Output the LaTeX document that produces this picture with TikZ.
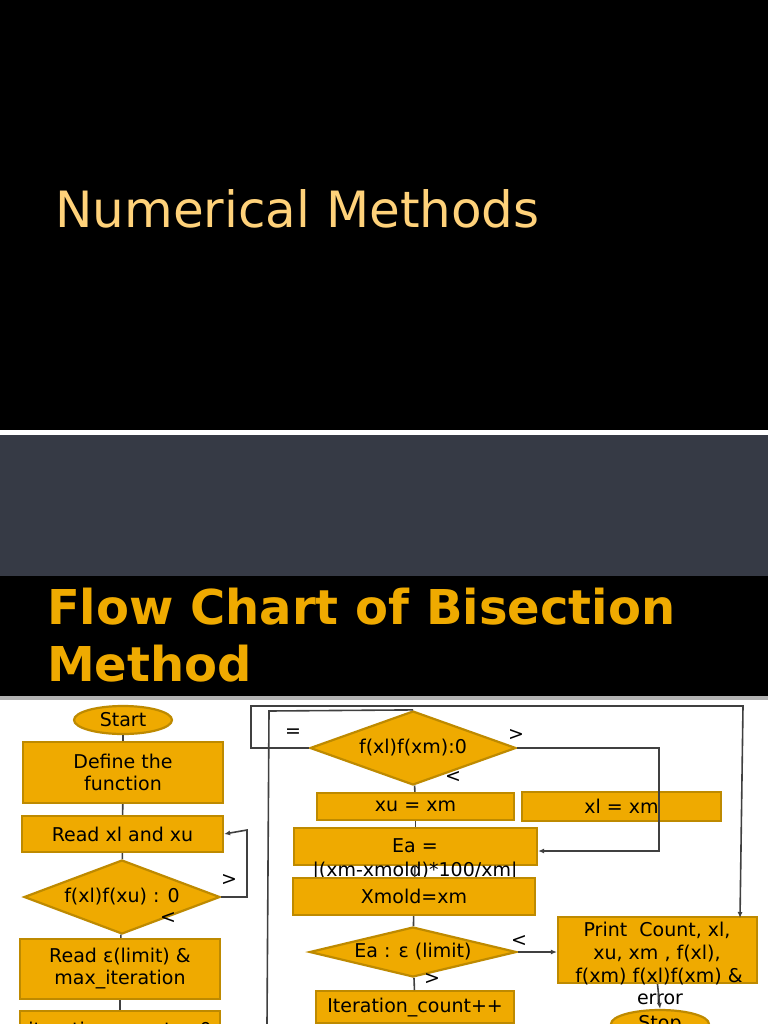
\documentclass[tikz,border=0pt]{standalone}
\usepackage{fontspec}
\setmainfont{DejaVu Sans}
\usetikzlibrary{shapes.geometric,arrows.meta}
\definecolor{gold}{HTML}{EFAA00}
\definecolor{goldedge}{HTML}{BE8A00}
\definecolor{band}{HTML}{363A45}
\definecolor{titlecol}{HTML}{FFD27A}
\definecolor{lnk}{HTML}{404040}
\tikzset{
  box/.style={draw=goldedge,fill=gold,line width=2.2pt,inner sep=0pt,font=\fontsize{19}{22}\selectfont,align=center},
  dec/.style={draw=goldedge,fill=gold,line width=2.2pt,diamond,inner sep=0pt,font=\fontsize{19}{22}\selectfont},
  term/.style={draw=goldedge,fill=gold,line width=2.2pt,ellipse,inner sep=0pt,minimum width=98pt,minimum height=28pt,font=\fontsize{19}{22}\selectfont},
  lk/.style={draw=lnk,line width=1.6pt},
  ar/.style={lk,-{Latex[length=6pt,width=5pt]}},
  lbl/.style={font=\fontsize{19}{22}\selectfont,inner sep=0pt}
}
\begin{document}
\begin{tikzpicture}[x=1pt,y=-1pt]
\useasboundingbox (0,0) rectangle (768,1024);
\fill[black] (0,0) rectangle (768,430);
\fill[white] (0,430) rectangle (768,435);
\fill[band] (0,435) rectangle (768,576);
\fill[black] (0,576) rectangle (768,696);
\fill[gray!60] (0,696) rectangle (768,700);
\fill[white] (0,700) rectangle (768,1024);
\node[anchor=base west,text=titlecol,font=\fontsize{50}{58}\selectfont,inner sep=0pt] (t1) at (55,227) {Numerical Methods};
\node[anchor=base west,text=gold,font=\fontsize{48}{56}\bfseries\selectfont,inner sep=0pt,align=left] (t2) at (47,624) {Flow Chart of Bisection};
\node[anchor=base west,text=gold,font=\fontsize{48}{56}\bfseries\selectfont,inner sep=0pt,align=left] (t3) at (47,681) {Method};
\node[box,minimum width=200pt,minimum height=40pt,anchor=north] (init) at (120,1010) {iteration\_count = 0};
\node[term] (start) at (123,720) {Start};
\node[box,minimum width=200pt,minimum height=61pt] (def) at (123,772.5) {Define the\\function};
\node[box,minimum width=201pt,minimum height=36pt] (rd) at (122.5,834) {Read xl and xu};
\node[dec,shape aspect=2.65,minimum width=196pt,minimum height=74pt] (d1) at (122,897) {f(xl)f(xu) : 0};
\node[box,minimum width=200pt,minimum height=60pt] (eps) at (120,969) {Read ε(limit) \&\\max\_iteration};
\draw[lk] (start) -- (def); \draw[lk] (def) -- (rd); \draw[lk] (rd) -- (d1); \draw[lk] (d1) -- (eps); \draw[lk] (eps) -- (init);
\coordinate (c1) at (247,897); \coordinate (c2) at (247,830);
\draw[ar] (d1.east) -- (c1) -- (c2) -- (rd.east);
\node[lbl] (g1) at (229,880) {>};
\node[lbl] (l1) at (168,918) {<};
\node[dec,shape aspect=2.78,minimum width=206pt,minimum height=74pt] (d2) at (413,748) {f(xl)f(xm):0};
\node[box,minimum width=197pt,minimum height=27pt] (xu) at (415.5,806.5) {xu = xm};
\node[box,minimum width=199pt,minimum height=29pt] (xl) at (621.5,806.5) {xl = xm};
\node[box,minimum width=243pt,minimum height=37pt] (ea) at (415.5,846.5) {};
\node[lbl,anchor=base] (eat) at (415,852) {Ea =};
\node[lbl,anchor=base] (eat2) at (415,876) {|(xm-xmold)*100/xm|};
\node[box,minimum width=242pt,minimum height=37pt] (xmo) at (414,896.5) {Xmold=xm};
\node[dec,shape aspect=4.1,minimum width=207pt,minimum height=50pt] (d3) at (413,952) {Ea : ε (limit)};
\node[box,minimum width=198pt,minimum height=32pt,anchor=north west] (it) at (315,990) {Iteration\_count++};
\node[box,minimum width=199pt,minimum height=66pt] (pr) at (657.5,950) {};
\node[lbl,anchor=base] (p1) at (657,936) {Print \ Count, xl,};
\node[lbl,anchor=base] (p2) at (657,959) {xu, xm , f(xl),};
\node[lbl,anchor=base] (p3) at (659,982) {f(xm) f(xl)f(xm) \&};
\node[lbl,anchor=base] (p4) at (660,1004) {error};
\node[term] (stop) at (660,1024) {Stop};
\draw[lk] (d2) -- (xu); \draw[lk] (xu) -- (ea); \draw[lk] (ea) -- (xmo); \draw[lk] (xmo) -- (d3); \draw[lk] (d3) -- (it);
\coordinate (r1) at (659,748); \coordinate (r2) at (659,851);
\draw[ar] (d2.east) -- (r1) -- (r2) -- (ea.east |- r2);
\draw[ar] (d3.east) -- (pr.west |- d3.east);
\draw[ar] (pr.south) -- (stop.north);
\coordinate (o1) at (251,748); \coordinate (o2) at (251,706); \coordinate (o3) at (743,706); \coordinate (o4) at (740,918);
\draw[ar] (d2.west) -- (o1) -- (o2) -- (o3) -- (o4);
\coordinate (b1) at (267,1024); \coordinate (b2) at (269,711);
\draw[lk] (b1) -- (b2) -- (d2.north);
\node[lbl] (eq) at (293,733) {=};
\node[lbl] (g2) at (516,735) {>};
\node[lbl] (l2) at (453,777) {<};
\node[lbl] (l3) at (519,941) {<};
\node[lbl] (g3) at (432,979) {>};
\end{tikzpicture}
\end{document}
